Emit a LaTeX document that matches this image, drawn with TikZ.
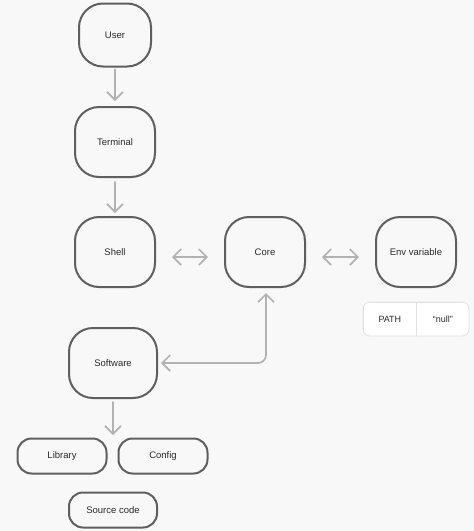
\documentclass[tikz,border=0pt]{standalone}
\usepackage{fontspec}
\setmainfont{Liberation Sans}
\usetikzlibrary{arrows.meta}

\definecolor{bgpaper}{HTML}{F8F8F8}
\definecolor{boxline}{HTML}{5F5F5F}
\definecolor{linkgray}{HTML}{B2B2B2}
\definecolor{textdark}{HTML}{2A2A2A}
\definecolor{tableline}{HTML}{E2E2E2}

\tikzset{
  bigbox/.style={draw=boxline, line width=2pt, fill=bgpaper, rounded corners=24pt,
    minimum width=80pt, minimum height=70pt, text=textdark, font=\fontsize{9.5}{11}\selectfont},
  smallbox/.style={bigbox, rounded corners=14pt, minimum width=89pt, minimum height=35pt},
  cell/.style={draw=tableline, line width=0.8pt, fill=white, minimum width=53pt,
    minimum height=34pt, text=textdark, font=\fontsize{9}{10}\selectfont},
  link/.style={draw=linkgray, line width=1.7pt, line cap=round,
    arrows={-Straight Barb[length=8pt,width=16pt]}},
  twoway/.style={link, arrows={Straight Barb[length=8pt,width=16pt]-Straight Barb[length=8pt,width=16pt]}}
}

\begin{document}
\begin{tikzpicture}[x=1pt, y=-1pt]
    % Paper
    \fill[bgpaper] (0,0) rectangle (474,531);
    \useasboundingbox (0,0) rectangle (474,531);

    % Top column
    \node[bigbox, minimum width=72pt, minimum height=63pt] (user) at (115,35) {User};
    \node[bigbox] (terminal) at (115,142) {Terminal};
    \node[bigbox] (shell) at (115,252) {Shell};

    % Middle row
    \node[bigbox] (core) at (265,252) {Core};
    \node[bigbox] (env) at (416,252) {Env variable};

    % Table under the env variable
    \begin{scope}
        \clip[rounded corners=7pt] (363,302) rectangle (469,336);
        \node[cell, anchor=north west] (pathkey) at (363,302) {PATH};
        \node[cell, anchor=north west] (pathval) at (416,302) {``null''};
    \end{scope}
    \draw[tableline, line width=0.8pt, rounded corners=7pt] (363,302) rectangle (469,336);

    % Lower part
    \node[bigbox, minimum width=88pt] (software) at (113,363) {Software};
    \node[smallbox] (library) at (62,456) {Library};
    \node[smallbox] (config) at (163,456) {Config};
    \node[smallbox, minimum width=88pt] (source) at (113,510) {Source code};
    \coordinate (gap) at (113,435);

    % Connectors
    \draw[link, shorten <=2pt, shorten >=5pt] (user) -- (terminal);
    \draw[link, shorten <=4pt, shorten >=3pt] (terminal) -- (shell);
    \draw[twoway, shorten <=16pt, shorten >=16pt] ([yshift=-5pt]shell.east) -- ([yshift=-5pt]core.west);
    \draw[twoway, shorten <=16pt, shorten >=16pt] ([yshift=-5pt]core.east) -- ([yshift=-5pt]env.west);
    \draw[twoway, rounded corners=8pt, shorten <=5pt, shorten >=3pt] ([xshift=1pt]core.south) |- (software.east);
    \draw[link, shorten <=3pt] (software) -- (gap);
\end{tikzpicture}
\end{document}
